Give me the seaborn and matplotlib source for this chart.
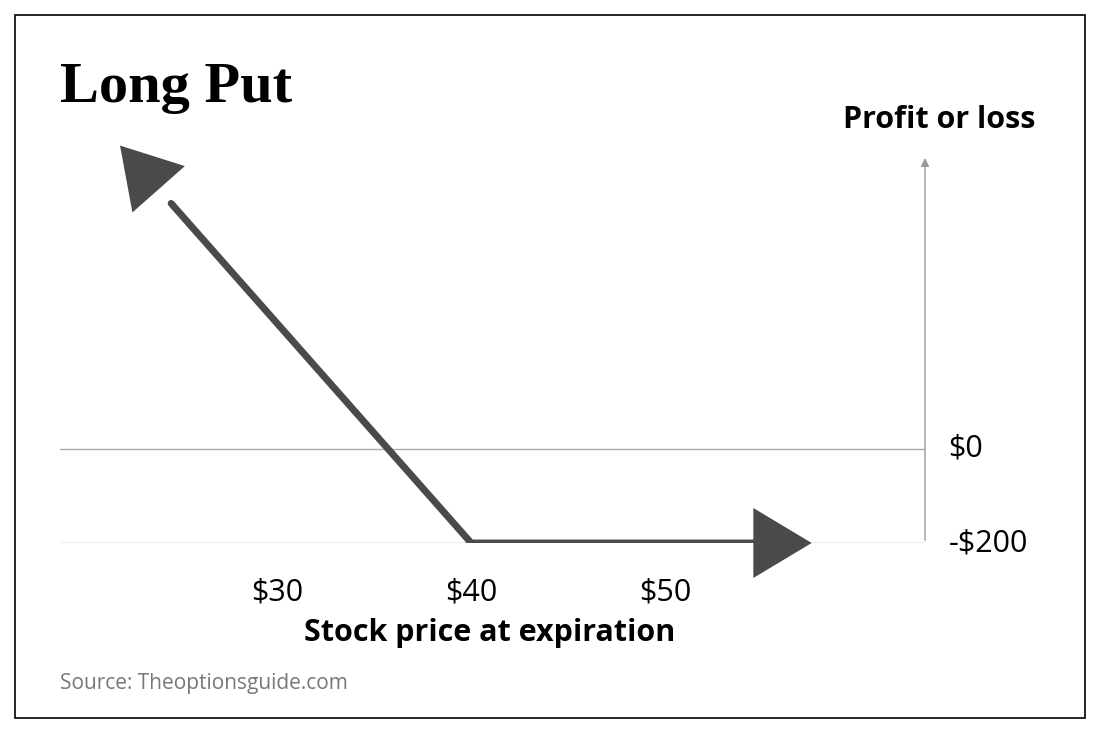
import matplotlib
matplotlib.use("Agg")
import matplotlib.pyplot as plt
import seaborn as sns
import pandas as pd
from matplotlib.patches import Rectangle

sns.set_theme(style="white")
plt.rcParams['font.family'] = ['Open Sans', 'DejaVu Sans']
plt.rcParams['text.color'] = 'black'

price = [21.8, 40, 57.7]
profit = [650, -200, -200]
xtick_vals = [30, 40, 50]
xtick_labels = ["$30", "$40", "$50"]
ytick_vals = [0, -200]
ytick_labels = ["$0", "-$200"]

fig = plt.figure(figsize=(11, 7.36), dpi=100)
fig.patches.append(Rectangle((15/1100, 1-718/736), 1070/1100, 703/736, transform=fig.transFigure,
                             fill=False, edgecolor="black", lw=1.2))
ax = fig.add_axes([60/1100, 1-543/736, 865/1100, 443/736])
xmin, xmax = 18.8, 63.4
ax.set_xlim(xmin, xmax)
ax.set_ylim(-200, 742.5)
for s in ax.spines.values():
    s.set_visible(False)
ax.set_xticks([]); ax.set_yticks([])
ax.patch.set_alpha(0)

for yv in ytick_vals:
    ax.axhline(yv, color="#aaaaaa", lw=1, zorder=1)
ax.annotate("", xy=(xmax, 625), xytext=(xmax, -200),
            arrowprops=dict(arrowstyle="-|>", color="#999999", lw=1, mutation_scale=12))

# shorten the line ends slightly so the arrowheads cover them
f = 0.85
px = list(price); py = list(profit)
px[0] = price[1] + (price[0] - price[1]) * f; py[0] = profit[1] + (profit[0] - profit[1]) * f
px[2] = price[1] + (price[2] - price[1]) * f; py[2] = profit[2]
df = pd.DataFrame({"price": px, "profit": py})
sns.lineplot(data=df, x="price", y="profit", color="#4a4a4a", lw=5, ax=ax, sort=False, zorder=3)
ax.set_xlabel(""); ax.set_ylabel("")
head = dict(arrowstyle="-|>,head_length=1.0,head_width=0.6", color="#4a4a4a", lw=0, mutation_scale=42)
ax.annotate("", xy=(price[0], profit[0]), xytext=(px[0], py[0]),
            arrowprops=head, annotation_clip=False, zorder=4)
ax.annotate("", xy=(price[2], profit[2]), xytext=(px[2], py[2]),
            arrowprops=head, annotation_clip=False, zorder=4)

for xv, lab in zip(xtick_vals, xtick_labels):
    ax.text(xv, -306, lab, ha="center", va="center", fontsize=22, color="black")
for yv, lab in zip(ytick_vals, ytick_labels):
    ax.text(xmax + 1.2, yv, lab, ha="left", va="center", fontsize=22, color="black")

fig.text(490/1100, 1-633/736, "Stock price at expiration", ha="center", va="center",
         fontsize=22, fontweight="bold", color="black")
fig.text(1035/1100, 1-120/736, "Profit or loss", ha="right", va="center",
         fontsize=22, fontweight="bold", color="black")
fig.text(60/1100, 1-88/736, "Long Put", ha="left", va="center", fontsize=42,
         fontweight="bold", color="black", family=["Liberation Serif", "DejaVu Serif"])
fig.text(60/1100, 1-684/736, "Source: Theoptionsguide.com", ha="left", va="center",
         fontsize=15, color="#777777")

fig.savefig("out.png", dpi=100)
